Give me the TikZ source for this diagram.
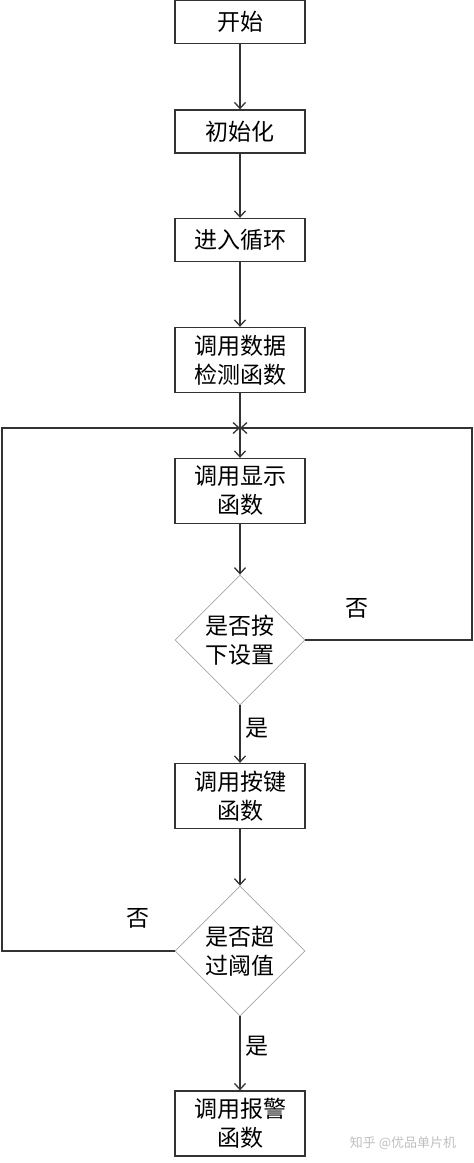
\documentclass[tikz,border=0pt]{standalone}
\usepackage{fontspec}
\setmainfont{Noto Sans CJK SC}
\usetikzlibrary{shapes.geometric,arrows.meta}
\begin{document}
\begin{tikzpicture}[x=1pt,y=-1pt,
    >={Straight Barb[length=6pt,width=11pt]},
    stepbox/.style={draw=black!80,line width=1.3pt,minimum width=130pt,minimum height=43pt,inner sep=0pt,align=center,font=\fontsize{23}{29}\selectfont},
    ask/.style={diamond,draw=black!35,line width=0.8pt,minimum width=130pt,minimum height=130pt,inner sep=0pt,align=center,font=\fontsize{23}{29}\selectfont},
    lbl/.style={font=\fontsize{23}{29}\selectfont},
    link/.style={draw=black!80,line width=1.3pt}]
    \useasboundingbox (0,0) rectangle (474,1163);
    \node[stepbox] (start) at (240,22) {开始};
    \node[stepbox] (init) at (240,131.5) {初始化};
    \node[stepbox] (loop) at (240,240) {进入循环};
    \node[stepbox,minimum height=65pt] (detect) at (240,360) {调用数据\\检测函数};
    \node[stepbox,minimum height=65pt] (show) at (240,491) {调用显示\\函数};
    \node[ask] (ask1) at (240,640) {是否按\\下设置};
    \node[stepbox,minimum height=65pt] (key) at (240,796) {调用按键\\函数};
    \node[ask] (ask2) at (240,951) {是否超\\过阈值};
    \node[stepbox,minimum height=65pt] (alarm) at (240,1123.5) {调用报警\\函数};
    \coordinate (join) at (240,428);
    \coordinate (rtop) at (472,428);
    \coordinate (rbot) at (472,640);
    \coordinate (ltop) at (2,428);
    \coordinate (lbot) at (2,951);
    \draw [link,->] (start) -- (init);
    \draw [link,->] (init) -- (loop);
    \draw [link,->] (loop) -- (detect);
    \draw [link,->] (detect) -- (show);
    \draw [link,->] (show) -- (ask1);
    \draw [link,->] (ask1) -- node[lbl,right,pos=.4,xshift=2pt] (yes1) {是} (key);
    \draw [link,->] (key) -- (ask2);
    \draw [link,->] (ask2) -- node[lbl,right,pos=.4,xshift=2pt] (yes2) {是} (alarm);
    \draw [link,->] (ask1.east) -- (rbot) -- (rtop) -- (join);
    \draw [link,->] (ask2.west) -- (lbot) -- (ltop) -- (join);
    \node[lbl] (no1) at (357,608) {否};
    \node[lbl] (no2) at (138,918) {否};
    \node[font=\fontsize{13}{15}\selectfont,text=black!25] (mark) at (403,1143) {知乎 @优品单片机};
\end{tikzpicture}
\end{document}
